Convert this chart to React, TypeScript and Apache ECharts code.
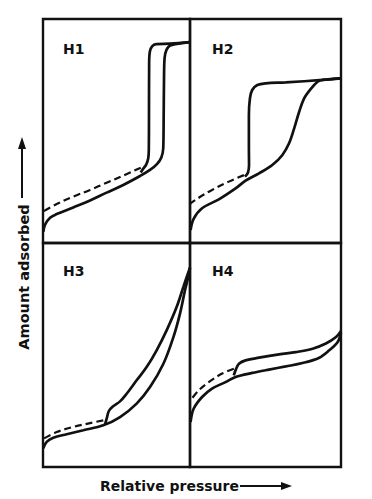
import React, { useEffect, useRef } from "react";
import * as echarts from "echarts";

// Panel labels
const panelLabels = ["H1", "H2", "H3", "H4"];
const yAxisTitle = "Amount adsorbed";
const xAxisTitle = "Relative pressure";

// H1 (relative pressure, amount adsorbed), normalised 0..1
const h1Adsorption = [
  [0.002, 0.05], [0.014, 0.082], [0.048, 0.113], [0.093, 0.129], [0.206, 0.159],
  [0.32, 0.19], [0.433, 0.225], [0.546, 0.259], [0.66, 0.299], [0.728, 0.326],
  [0.775, 0.352], [0.805, 0.382], [0.818, 0.423], [0.821, 0.571], [0.823, 0.72],
  [0.827, 0.825], [0.84, 0.862], [0.866, 0.882], [1.0, 0.897],
];
const h1Desorption = [
  [1.0, 0.897], [0.864, 0.89], [0.77, 0.888], [0.742, 0.878], [0.727, 0.855],
  [0.722, 0.8], [0.721, 0.571], [0.72, 0.423], [0.716, 0.378], [0.702, 0.35],
  [0.68, 0.33], [0.665, 0.315],
];
const h1Dashed = [
  [0.665, 0.336], [0.546, 0.301], [0.433, 0.269], [0.32, 0.237], [0.206, 0.207],
  [0.093, 0.174], [0.0, 0.14],
];

// H2
const h2Adsorption = [
  [0.004, 0.058], [0.024, 0.108], [0.08, 0.155], [0.191, 0.195], [0.302, 0.244],
  [0.368, 0.278], [0.457, 0.311], [0.545, 0.348], [0.612, 0.393], [0.656, 0.445],
  [0.69, 0.512], [0.723, 0.586], [0.756, 0.646], [0.8, 0.688], [0.845, 0.72],
  [0.878, 0.728], [1.0, 0.735],
];
const h2Desorption = [
  [1.0, 0.735], [0.878, 0.728], [0.634, 0.717], [0.501, 0.713], [0.446, 0.705],
  [0.412, 0.683], [0.397, 0.646], [0.39, 0.571], [0.39, 0.423], [0.391, 0.348],
  [0.384, 0.315], [0.364, 0.296],
];
const h2Dashed = [
  [0.357, 0.303], [0.257, 0.274], [0.146, 0.237], [0.058, 0.202], [0.0, 0.175],
];

// H3
const h3Adsorption = [
  [0.002, 0.083], [0.025, 0.112], [0.07, 0.131], [0.161, 0.146], [0.274, 0.164],
  [0.41, 0.186], [0.524, 0.223], [0.637, 0.283], [0.728, 0.357], [0.819, 0.461],
  [0.887, 0.58], [0.932, 0.685], [0.966, 0.789], [0.992, 0.86], [1.0, 0.89],
];
const h3Desorption = [
  [1.0, 0.89], [0.989, 0.87], [0.955, 0.804], [0.909, 0.714], [0.841, 0.61],
  [0.773, 0.521], [0.705, 0.446], [0.637, 0.387], [0.569, 0.327], [0.524, 0.293],
  [0.475, 0.27], [0.448, 0.25], [0.434, 0.218], [0.422, 0.19],
];
const h3Dashed = [
  [0.41, 0.208], [0.32, 0.196], [0.206, 0.179], [0.093, 0.156], [0.0, 0.125],
];

// H4
const h4Adsorption = [
  [0.004, 0.201], [0.024, 0.26], [0.08, 0.3125], [0.146, 0.35], [0.235, 0.379],
  [0.302, 0.402], [0.412, 0.42], [0.523, 0.435], [0.634, 0.449], [0.745, 0.464],
  [0.856, 0.488], [0.922, 0.521], [0.978, 0.558], [1.0, 0.6],
];
const h4Desorption = [
  [1.0, 0.607], [0.967, 0.58], [0.9, 0.551], [0.812, 0.528], [0.701, 0.513],
  [0.59, 0.503], [0.457, 0.488], [0.368, 0.476], [0.324, 0.461], [0.306, 0.439],
  [0.29, 0.409],
];
const h4Dashed = [
  [0.29, 0.439], [0.213, 0.417], [0.124, 0.379], [0.058, 0.342], [0.0, 0.295],
];

const panels = [
  { ads: h1Adsorption, des: h1Desorption, dash: h1Dashed },
  { ads: h2Adsorption, des: h2Desorption, dash: h2Dashed },
  { ads: h3Adsorption, des: h3Desorption, dash: h3Dashed },
  { ads: h4Adsorption, des: h4Desorption, dash: h4Dashed },
];

const INK = "#111";

export default function App() {
  const ref = useRef<HTMLDivElement>(null);

  useEffect(() => {
    if (!ref.current) return;
    const chart = echarts.init(ref.current, null, { renderer: "svg" });

    const gridBoxes = [
      { left: 43, top: 19, width: 147, height: 224 },
      { left: 190, top: 19, width: 151, height: 224 },
      { left: 43, top: 243, width: 147, height: 224 },
      { left: 190, top: 243, width: 151, height: 224 },
    ];

    const labelPos = [
      [63, 48], [212, 48], [63, 270], [212, 270],
    ];

    const series: any[] = [];
    panels.forEach((p, i) => {
      const common = {
        type: "line",
        xAxisIndex: i,
        yAxisIndex: i,
        showSymbol: false,
        symbol: "none",
        smooth: 0.35,
        clip: true,
      };
      series.push({ ...common, data: p.ads, lineStyle: { color: INK, width: 2.7 } });
      series.push({ ...common, data: p.des, lineStyle: { color: INK, width: 2.7 } });
      series.push({
        ...common,
        data: p.dash,
        lineStyle: { color: INK, width: 2.2, type: [7, 4] },
      });
    });

    chart.setOption({
      animation: false,
      backgroundColor: "#fff",
      grid: gridBoxes.map((g) => ({
        ...g,
        show: true,
        borderColor: INK,
        borderWidth: 2.4,
        backgroundColor: "transparent",
      })),
      xAxis: gridBoxes.map((_, i) => ({
        type: "value",
        gridIndex: i,
        min: 0,
        max: 1,
        show: false,
      })),
      yAxis: gridBoxes.map((_, i) => ({
        type: "value",
        gridIndex: i,
        min: 0,
        max: 1,
        show: false,
      })),
      series,
      graphic: [
        ...panelLabels.map((t, i) => ({
          type: "text",
          left: labelPos[i][0],
          top: labelPos[i][1] - 6,
          style: {
            text: t,
            fill: INK,
            font: "bold 14px 'DejaVu Sans'",
          },
        })),
        {
          type: "text",
          x: 24,
          y: 277,
          rotation: Math.PI / 2,
          style: {
            text: yAxisTitle,
            fill: INK,
            font: "bold 14.5px 'DejaVu Sans'",
            align: "center",
            verticalAlign: "middle",
          },
        },
        {
          type: "line",
          shape: { x1: 22, y1: 198, x2: 22, y2: 146 },
          style: { stroke: INK, lineWidth: 2 },
        },
        {
          type: "polygon",
          shape: { points: [[22, 137], [18, 149], [26, 149]] },
          style: { fill: INK },
        },
        {
          type: "text",
          x: 100,
          y: 486,
          style: {
            text: xAxisTitle,
            fill: INK,
            font: "bold 14px 'DejaVu Sans'",
            align: "left",
            verticalAlign: "middle",
          },
        },
        {
          type: "line",
          shape: { x1: 240, y1: 486, x2: 283, y2: 486 },
          style: { stroke: INK, lineWidth: 2 },
        },
        {
          type: "polygon",
          shape: { points: [[292, 486], [281, 482], [281, 490]] },
          style: { fill: INK },
        },
      ],
    });

    return () => chart.dispose();
  }, []);

  return (
    <div
      ref={ref}
      style={{ position: "absolute", left: 0, top: 0, width: 372, height: 499 }}
    />
  );
}
